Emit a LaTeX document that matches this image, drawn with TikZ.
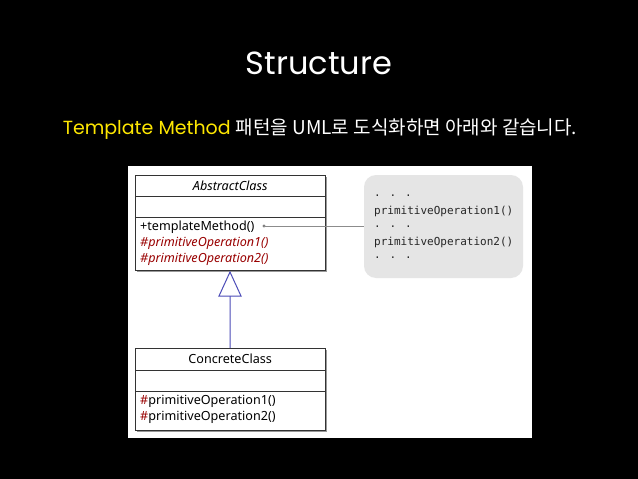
\documentclass[tikz,border=0pt]{standalone}
\usepackage{fontspec}
\setmainfont{Noto Sans}
\newfontfamily\kr{Noto Sans CJK KR}
\newfontfamily\pop{Poppins}
\newfontfamily\mono{DejaVu Sans Mono}
\begin{document}
\begin{tikzpicture}[x=1pt,y=-1pt,
  row/.style={draw=black!80,fill=white,minimum width=190pt,inner sep=0pt,anchor=north west},
  txt/.style={font=\fontsize{12.6}{14}\selectfont,anchor=west,inner sep=0pt},
  red/.style={text=red!60!black},
  notetxt/.style={font=\mono\fontsize{11}{12}\selectfont,anchor=west,inner sep=0pt,text=black!85}]
\useasboundingbox (0,0) rectangle (638,479);
\fill[black] (0,0) rectangle (638,479);
\node[font=\pop\fontsize{32}{34}\selectfont,text=white] (title) at (319,63) {Structure};
\node[font=\fontsize{19}{21}\selectfont,text=white] (sub) at (320,129) {\pop\textcolor{yellow!90!orange}{Template Method} \kr 패턴을 UML로 도식화하면 아래와 같습니다.};
\fill[white] (128,166) rectangle (532,438);
% abstract class
\fill[black!40] (137,177) rectangle (327,272);
\node[row,minimum height=21pt,font=\itshape\fontsize{12.6}{14}\selectfont] (a1) at (135,175) {AbstractClass};
\node[row,minimum height=21pt] (a2) at (135,196) {};
\node[row,minimum height=53pt] (a3) at (135,217) {};
\node[txt] (m1) at (140,227) {+templateMethod()};
\node[txt,red,font=\itshape\fontsize{12.6}{14}\selectfont] (m2) at (140,243) {\#primitiveOperation1()};
\node[txt,red,font=\itshape\fontsize{12.6}{14}\selectfont] (m3) at (140,259) {\#primitiveOperation2()};
% note
\fill[black!10,rounded corners=12pt] (364,175) rectangle (523,278);
\node[notetxt] (n1) at (374,196) {. . .};
\node[notetxt] (n2) at (374,211) {primitiveOperation1()};
\node[notetxt] (n3) at (374,227) {. . .};
\node[notetxt] (n4) at (374,242) {primitiveOperation2()};
\node[notetxt] (n5) at (374,258) {. . .};
\coordinate (d) at (264,226);
\coordinate (ne) at (364,226);
\fill[black!50] (d) circle (1.6pt);
\draw[black!45,line width=0.8pt] (d) -- (ne);
% concrete
\fill[black!40] (137,350) rectangle (327,432);
\node[row,minimum height=22pt,font=\fontsize{12.6}{14}\selectfont] (c1) at (135,348) {ConcreteClass};
\node[row,minimum height=21pt] (c2) at (135,370) {};
\node[row,minimum height=39pt] (c3) at (135,391) {};
\node[txt] (k1) at (140,401) {\textcolor{red!60!black}{\#}primitiveOperation1()};
\node[txt] (k2) at (140,417) {\textcolor{red!60!black}{\#}primitiveOperation2()};
% generalization
\coordinate (tb) at (230,296);
\draw[blue!60!black!70,line width=1pt] (c1.north) -- (tb);
\draw[blue!60!black!70,line width=1pt,fill=white] (230,272) -- (241,296) -- (219,296) -- cycle;
\end{tikzpicture}
\end{document}
